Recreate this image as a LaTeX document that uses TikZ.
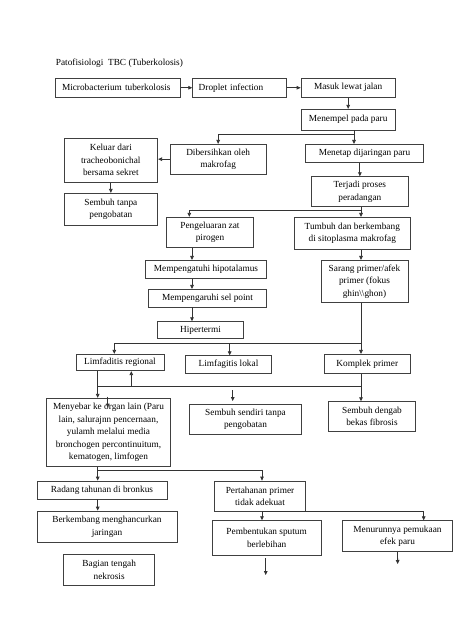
\documentclass[tikz,border=0pt]{standalone}
\usepackage{fontspec}
\setmainfont{Liberation Serif}
\usetikzlibrary{arrows.meta}
\newcommand\bx[7][]{\node[box,minimum width={(#5-#3)*1pt},minimum height={(#6-#4)*1pt},#1] (#2) at ({(#3+#5)/2},{(#4+#6)/2}) {#7};}
\begin{document}
\begin{tikzpicture}[x=1pt,y=-1pt,
  box/.style={draw=black!75,line width=0.8pt,inner sep=2pt,align=center,font=\fontsize{9.3}{12.5}\selectfont},
  lft/.style={align=left,inner xsep=6pt},
  ln/.style={draw=black!80,line width=0.8pt},
  arr/.style={ln,-{Triangle[length=4pt,width=3.6pt]}},
  lbl/.style={inner sep=0pt,font=\fontsize{9.3}{12.5}\selectfont}]
\fill[white] (0,0) rectangle (474,632);
\useasboundingbox (0,0) rectangle (474,632);
\node[lbl,anchor=west] (title) at (55.7,63.5) {Patofisiologi\ \ TBC (Tuberkolosis)};
\bx[lft,text width=112pt]{micro}{55.7}{78}{180.3}{97.5}{Microbacterium tuberkolosis}
\bx[lft,text width=82pt]{droplet}{192.7}{78}{286.7}{97.5}{Droplet infection}
\bx{masuk}{301}{78}{395.3}{97.5}{Masuk lewat jalan}
\bx{menempel}{301}{109.3}{395.3}{130}{Menempel pada paru}
\bx{dibers}{170}{144.3}{266.3}{174}{Dibersihkan oleh\\makrofag}
\bx{menetap}{305.3}{144.3}{423.7}{162.7}{Menetap dijaringan paru}
\bx{keluar}{64}{138}{157.7}{182.3}{Keluar dari\\tracheobonichal\\bersama sekret}
\bx{sembuhA}{64}{193.3}{157.7}{225.7}{Sembuh tanpa\\pengobatan}
\bx{terjadi}{311.7}{176.7}{408}{206.7}{Terjadi proses\\peradangan}
\bx{pengel}{166.7}{217.3}{253.3}{247.3}{Pengeluaran zat\\pirogen}
\bx{tumbuh}{294.3}{217.3}{410.3}{249.3}{Tumbuh dan berkembang\\di sitoplasma makrofag}
\bx{hipo}{145.7}{260.3}{266.3}{278.3}{Mempengatuhi hipotalamus}
\bx{selp}{148.7}{289.3}{266.3}{307}{Mempengaruhi sel point}
\bx{hiper}{157.3}{321.7}{243.7}{338.3}{Hipertermi}
\bx{sarang}{321}{260.3}{408}{302.7}{Sarang primer/afek\\primer (fokus\\ghin\textbackslash\textbackslash ghon)}
\bx{limfad}{76}{354.3}{164}{370.7}{Limfaditis regional}
\bx{limfag}{185.3}{355.7}{271.7}{373.7}{Limfagitis lokal}
\bx{komplek}{324.3}{354.3}{410.3}{373.3}{Komplek primer}
\bx{menyebar}{46.7}{398.3}{170.3}{466.7}{Menyebar ke organ lain (Paru\\lain, salurajnn pencernaan,\\yulamh melalui media\\bronchogen percontinuitum,\\kematogen, limfogen}
\bx{sembuhB}{189.3}{404.7}{301.7}{434.3}{Sembuh sendiri tanpa\\pengobatan}
\bx{sembuhC}{328.7}{401.7}{415.3}{431.3}{Sembuh dengab\\bekas fibrosis}
\bx{radang}{37}{481}{167}{499}{Radang tahunan di bronkus}
\bx{pertah}{214.3}{481}{305.7}{511.7}{Pertahanan primer\\tidak adekuat}
\bx{berkemb}{37}{511}{177}{542.3}{Berkembang menghancurkan\\jaringan}
\bx{bagian}{63.7}{554.7}{154.7}{585.3}{Bagian tengah\\nekrosis}
\bx{pembent}{212}{520.7}{321.3}{555}{Pembentukan sputum\\berlebihan}
\bx{menurun}{342.7}{520.7}{452.3}{551.7}{Menurunnya pemukaan\\efek paru}
% helper coordinates
\coordinate (j1) at (354,134.3);
\coordinate (j2) at (361,210.7);
\coordinate (j2l) at (189.3,210.7);
\coordinate (xa) at (192,0);
\coordinate (j3) at (361,343.3);
\coordinate (j3l) at (114.3,343.3);
\coordinate (j3m) at (229.7,343.3);
\coordinate (xb) at (97.7,0);
\coordinate (j4) at (361,386.7);
\coordinate (j4l) at (97.7,386.7);
\coordinate (j4u) at (131.3,386.7);
\coordinate (fa1) at (232.7,390);
\coordinate (fa2) at (232.7,401);
\coordinate (fb1) at (107.7,396.7);
\coordinate (fb2) at (107.7,407.7);
\coordinate (j5) at (97.7,470);
\coordinate (j5r) at (262,470);
\coordinate (j6l) at (262,511.7);
\coordinate (j6r) at (423.7,511.7);
\coordinate (pa1) at (265.7,558);
\coordinate (pa2) at (265.7,575);
\coordinate (ma2) at (397.7,564);
% connectors
\draw[arr] (micro.east) -- (droplet.west);
\draw[arr] (droplet.east) -- (masuk.west);
\draw[arr] (masuk.south) -- (menempel.north);
\draw[ln] (menempel.south -| j1) -- (j1);
\draw[arr] (j1) -- (menetap.north -| j1);
\draw[arr] (j1) -| (dibers.north);
\draw[arr] (dibers.west) -- (dibers.west -| keluar.east);
\draw[arr] (keluar.south) -- (sembuhA.north);
\draw[arr] (terjadi.north |- menetap.south) -- (terjadi.north);
\draw[ln] (terjadi.south -| j2) -- (j2);
\draw[arr] (j2) -- (tumbuh.north -| j2);
\draw[arr] (j2) -- (j2l) -- (pengel.north -| j2l);
\draw[arr] (pengel.south -| xa) -- (hipo.north -| xa);
\draw[arr] (hipo.south -| xa) -- (selp.north -| xa);
\draw[arr] (selp.south -| xa) -- (hiper.north -| xa);
\draw[arr] (tumbuh.south -| j2) -- (sarang.north -| j2);
\draw[ln] (sarang.south -| j3) -- (j3);
\draw[arr] (j3) -- (komplek.north -| j3);
\draw[arr] (j3) -- (j3l) -- (limfad.north -| j3l);
\draw[arr] (j3m) -- (limfag.north -| j3m);
\draw[arr] (limfad.south -| xb) -- (menyebar.north -| xb);
\draw[ln] (komplek.south -| j4) -- (j4) -- (j4l);
\draw[arr] (j4) -- (sembuhC.north -| j4);
\draw[arr] (j4u) -- (limfad.south -| j4u);
\draw[arr] (fa1) -- (fa2);
\draw[arr] (fb1) -- (fb2);
\draw[arr] (menyebar.south -| xb) -- (radang.north -| xb);
\draw[arr] (j5) -- (j5r) -- (pertah.north -| j5r);
\draw[arr] (radang.south -| xb) -- (berkemb.north -| xb);
\draw[ln] (j6l) -- (j6r);
\draw[arr] (j6l) -- (pembent.north -| j6l);
\draw[arr] (j6r) -- (menurun.north -| j6r);
\draw[arr] (pa1) -- (pa2);
\draw[arr] (menurun.south) -- (ma2);
\end{tikzpicture}
\end{document}
